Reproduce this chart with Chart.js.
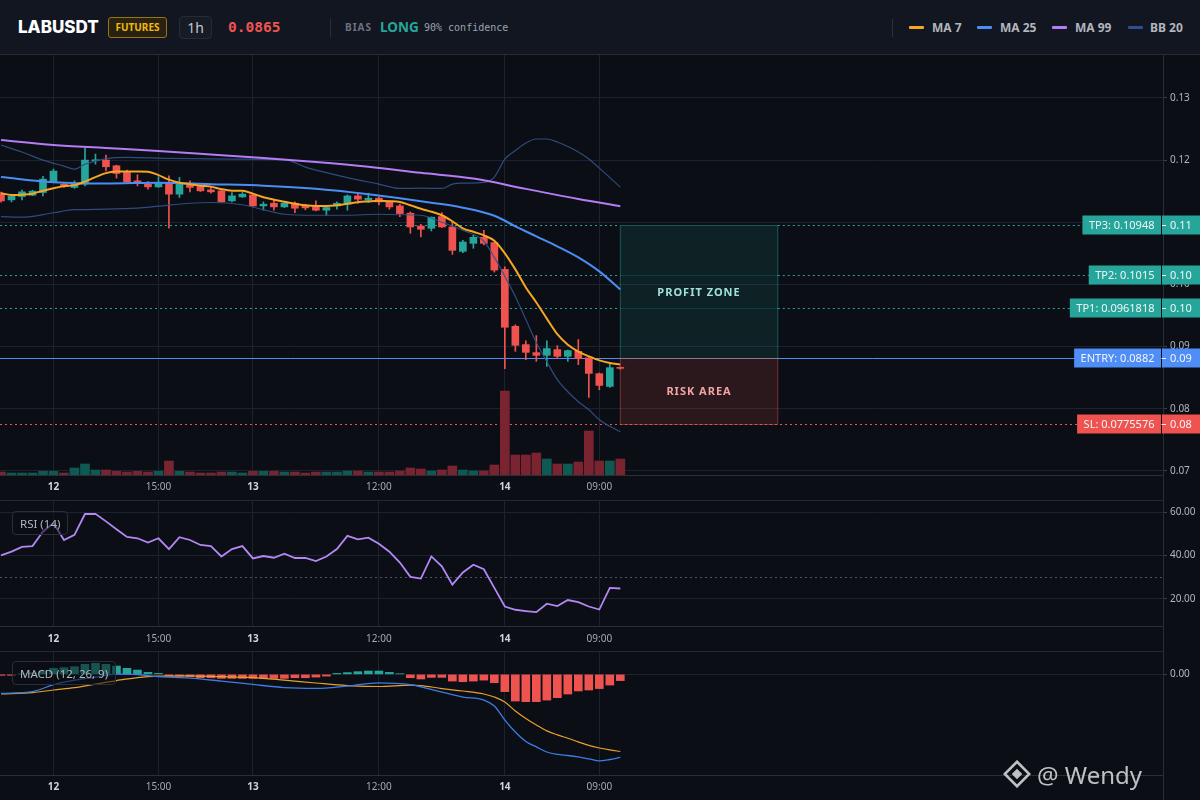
<!DOCTYPE html>
<html><head><meta charset="utf-8"><title>LABUSDT</title>
<script src="https://cdn.jsdelivr.net/npm/chart.js@4.4.1/dist/chart.umd.min.js"></script>
<style>
*{box-sizing:border-box}
html,body{margin:0;padding:0;width:1200px;height:800px;background:#0b0e14;overflow:hidden;font-family:"Noto Sans","Open Sans",sans-serif}
#hdr{position:absolute;left:0;top:0;width:1200px;height:55px;background:#111620;border-bottom:1px solid #262b36}
.a{position:absolute;top:0;height:54px;display:flex;align-items:center;white-space:nowrap}
#sym{left:18px;font:800 17px Inter,"Noto Sans",sans-serif;color:#fff}
#fut span{display:flex;align-items:center;justify-content:center;width:59px;height:21px;border:1px solid #9a7316;background:#2a2210;border-radius:3px;color:#f0b90b;font:bold 10px "Noto Sans",sans-serif}
#fut{left:108px}
#tf span{display:flex;align-items:center;justify-content:center;width:33px;height:23px;border:1px solid #262b37;background:#161b25;border-radius:4px;color:#c5c8d0;font:14px "Noto Sans",sans-serif}
#tf{left:179px}
#px{left:228px;font:bold 14.5px "DejaVu Sans Mono",monospace;color:#ef5350}
.sep{position:absolute;top:19px;width:1px;height:18px;background:#2a2f3b}
#bias{left:345px;font:bold 10px "Noto Sans",sans-serif;color:#6b7280;letter-spacing:1px}
#long{left:380px;font:bold 13.5px "Noto Sans",sans-serif;color:#26a69a}
#conf{left:424px;font:10px "DejaVu Sans Mono",monospace;color:#9ca3af}
.sw{position:absolute;top:26px;width:15px;height:3px;border-radius:1px}
.lg{font:bold 12px "Noto Sans",sans-serif;color:#b2b5be}
canvas{position:absolute;left:0}
.pl{position:absolute;left:12px;height:24px;padding:0 7px;border:1px solid #2a2e39;border-radius:4px;background:rgba(11,14,20,0.55);color:#b2b5be;font:11.5px "Noto Sans",sans-serif;display:flex;align-items:center;z-index:5;white-space:nowrap}
#wm{position:absolute;left:1003px;top:759px;height:30px;display:flex;align-items:center;gap:6px;color:rgba(214,217,222,0.88);font:24px "Noto Sans",sans-serif;z-index:5}
</style></head>
<body>
<div id="hdr">
  <div class="a" id="sym">LABUSDT</div>
  <div class="a" id="fut"><span>FUTURES</span></div>
  <div class="a" id="tf"><span>1h</span></div>
  <div class="a" id="px">0.0865</div>
  <div class="sep" style="left:330px"></div>
  <div class="a" id="bias">BIAS</div>
  <div class="a" id="long">LONG</div>
  <div class="a" id="conf">90% confidence</div>
  <div class="sep" style="left:892px"></div>
  <div class="sw" style="left:909px;background:#f5a623"></div><div class="a lg" style="left:932px">MA 7</div>
  <div class="sw" style="left:977px;background:#4a8ef5"></div><div class="a lg" style="left:1000px">MA 25</div>
  <div class="sw" style="left:1052px;background:#b57cf6"></div><div class="a lg" style="left:1075px">MA 99</div>
  <div class="sw" style="left:1128px;background:#2e4f8c"></div><div class="a lg" style="left:1150px">BB 20</div>
</div>
<canvas id="main" width="1200" height="445" style="top:55px"></canvas>
<canvas id="rsi" width="1200" height="151" style="top:500px"></canvas>
<canvas id="macd" width="1200" height="149" style="top:651px"></canvas>
<div class="pl" style="top:511px">RSI (14)</div>
<div class="pl" style="top:661px">MACD (12, 26, 9)</div>
<div id="wm"><svg width="28" height="28" viewBox="0 0 32 32"><polygon points="16,2 30,16 16,30 2,16" fill="none" stroke="rgba(214,217,222,0.88)" stroke-width="3"/><polygon points="16,10 22,16 16,22 10,16" fill="rgba(214,217,222,0.88)"/></svg><span>@ Wendy</span></div>
<script>
// ---------- DATA ----------
const opens  = [.11452,.1136,.11414,.11435,.11479,.11656,.11613,.1156,.11613,.11989,.12,.11908,.11802,.11666,.11613,.11569,.11629,.11452,.11597,.11576,.11521,.11505,.11344,.11408,.1144,.11263,.11306,.11247,.11306,.11263,.11247,.11194,.11263,.1129,.11424,.11355,.11387,.11327,.11263,.11145,.1094,.10903,.11092,.10924,.10532,.10661,.10758,.10673,.10242,.09327,.09032,.08903,.0886,.08952,.08844,.08924,.08818,.08565,.0836,.08666];
const highs  = [.11484,.1144,.11516,.11516,.11737,.11855,.1164,.11666,.12194,.12097,.12081,.11919,.11839,.11763,.11656,.11731,.11747,.11721,.11666,.11597,.11576,.11532,.11479,.11479,.11452,.11327,.11355,.11318,.11327,.1129,.11344,.11263,.11327,.1144,.11452,.11468,.11408,.11344,.1129,.11166,.10968,.11085,.11156,.11011,.1071,.1079,.10871,.10689,.10285,.0935,.09092,.09177,.09092,.09016,.08945,.09113,.08825,.08576,.08737,.08675];
const lows   = [.11323,.11327,.1136,.1143,.11424,.1165,.1156,.11544,.11585,.11935,.11827,.1171,.11645,.11585,.11532,.1156,.10903,.11398,.11489,.11495,.11468,.11323,.11327,.11398,.11253,.11194,.11194,.11237,.11156,.11199,.11182,.11113,.1121,.11194,.11306,.11318,.11279,.1121,.11089,.10823,.10763,.1086,.10915,.10484,.10511,.10581,.10634,.10198,.08645,.08924,.0879,.08763,.08682,.08806,.08763,.0871,.08182,.08306,.08344,.08634];
const closes = [.11344,.11424,.11489,.115,.11694,.11823,.11576,.11624,.12,.12005,.11892,.11785,.1165,.11629,.11569,.1164,.11452,.11624,.1156,.11505,.11489,.11327,.11424,.11452,.11263,.1129,.11247,.11306,.11226,.11231,.11194,.11237,.11306,.11424,.11371,.11387,.11327,.11247,.1114,.10924,.10887,.11081,.10924,.10548,.10682,.10758,.10661,.10231,.09311,.09021,.08908,.0886,.08968,.08844,.08935,.08806,.08569,.08376,.08661,.0865];
const volumeK = [30,20,20,20,37,37,20,70,110,50,50,37,30,37,30,37,140,37,30,20,20,30,30,20,37,37,37,30,30,20,30,30,30,40,40,30,30,30,40,70,60,40,50,90,50,40,40,100,840,200,200,220,160,110,110,130,440,140,140,160];
const ma7 = [.11468,.1144,.11444,.1146,.11508,.11548,.11581,.11597,.11653,.11726,.1179,.11815,.11818,.11815,.11811,.11758,.11685,.11637,.11613,.11589,.11573,.11532,.11508,.11505,.1146,.11403,.11363,.11331,.11298,.11274,.11263,.11263,.11274,.11298,.11323,.11335,.11344,.11339,.11327,.11274,.11218,.11169,.11113,.11016,.10903,.10847,.1079,.10702,.105,.10242,.09952,.0971,.0945,.092,.0903,.0892,.08844,.08779,.08737,.0871];
const ma25Idx = [0,5,10,15,20,25,30,35,38,41,44,47,49,51,53,55,57,59];
const ma25 = [.11726,.11645,.11624,.11637,.11613,.11589,.1154,.11452,.11387,.11315,.11234,.11105,.10935,.10774,.10613,.10435,.1021,.09919];
const ma99Idx = [0,5,10,15,20,25,30,35,40,45,50,55,59];
const ma99 = [.12323,.12242,.12194,.12145,.12089,.12032,.11968,.11892,.11795,.11702,.11537,.11374,.11258];
const bbUpIdx = [0,2,4,6,7,8,10,12,16,22,27,29,31,33,36,38,40,42,43,44,46,47,48,49,50,51,52,53,54,55,56,57,58,59];
const bbUp = [.12242,.12129,.12,.11903,.11855,.11935,.12024,.12044,.12027,.12016,.12008,.11887,.11798,.11718,.11613,.11544,.11548,.11544,.11613,.11629,.1164,.11726,.12016,.12153,.12274,.12339,.12339,.1229,.12218,.12129,.12016,.11871,.11718,.11565];
const bbLoIdx = [0,2,5,7,10,13,15,18,20,23,25,27,30,33,36,38,40,42,44,46,47,48,49,50,51,52,53,54,55,56,57,58,59];
const bbLo = [.11092,.11081,.11153,.11202,.1121,.11226,.11258,.11306,.11318,.11282,.11202,.11129,.11113,.11113,.11129,.11121,.11113,.11,.10871,.10694,.10435,.10129,.09806,.09435,.09065,.08758,.08468,.08274,.08113,.07984,.07823,.07718,.07629];
const rsi = [40,41.7,43.9,44.3,51,54.9,47.1,49.5,59.1,59.2,55.7,52.1,48.5,47.9,45.9,47.9,42.9,48.4,47.1,44.8,44.3,39.5,42.9,44.3,38.6,39.7,38.9,40.8,38.8,38.8,37.4,39.5,42.9,49,47.4,48.2,45.4,41.7,36.7,30.1,29.3,39.5,34.9,26.5,32.1,35.7,33.6,25,16.4,14.9,14.3,13.8,17.7,16.6,19.4,18.4,16.4,15,25,24.7];
const macdIdx = [0,3,5,7,9,11,13,15,18,21,24,27,30,33,36,39,40,42,44,46,47,48,49,50,51,52,53,54,55,56,57,58,59];
const macdLine = [-0.00119,-0.00108,-0.00064,-0.00036,-0.00017,0.00002,-0.00001,-0.00014,-0.00023,-0.00042,-0.00063,-0.00083,-0.00088,-0.00073,-0.00053,-0.00064,-0.00078,-0.00111,-0.00142,-0.00161,-0.00198,-0.00286,-0.00361,-0.0042,-0.00454,-0.00486,-0.00501,-0.00508,-0.00517,-0.00529,-0.00542,-0.00533,-0.00519];
const signalLine = [-0.00123,-0.00114,-0.00098,-0.00083,-0.00061,-0.00039,-0.0002,-0.00011,-0.00009,-0.00014,-0.0002,-0.00036,-0.00054,-0.0007,-0.00076,-0.00067,-0.0007,-0.00089,-0.00104,-0.00123,-0.00142,-0.00173,-0.00229,-0.00276,-0.00317,-0.00354,-0.00379,-0.004,-0.00423,-0.00445,-0.00461,-0.00473,-0.00483];
const macdHist = [-0.00006,-0.00006,0.00003,0.00009,0.00019,0.00038,0.00042,0.00048,0.00063,0.00069,0.00063,0.00052,0.00038,0.00027,0.000125,0.00006,-0.00011,-0.00011,-0.00014,-0.00021,-0.00021,-0.00025,-0.00025,-0.00025,-0.00025,-0.00025,-0.00025,-0.00025,-0.00021,-0.00021,-0.00017,-0.00011,0.00006,0.00011,0.00017,0.00021,0.00021,0.000125,0.00004,-0.00021,-0.00029,-0.00019,-0.00019,-0.00042,-0.00046,-0.00042,-0.00036,-0.00052,-0.00108,-0.00167,-0.00171,-0.00171,-0.00161,-0.00146,-0.00123,-0.00104,-0.00098,-0.00089,-0.00067,-0.00039];
const xTickIdx = [5,15,24,36,48,57];
const xTickLabels = ['12','15:00','13','12:00','14','09:00'];
const dayLabels = ['12','13','14'];
const priceTicks = [0.07,0.08,0.09,0.10,0.11,0.12,0.13];
const rsiTicks = [20,40,60];
const rsiLevel = 30;
const macdTicks = [0];
const levelNames = ['TP3','TP2','TP1','ENTRY','SL'];
const levelValues = [0.10948,0.1015,0.0961818,0.0882,0.0775576];
const zoneBars = 15;

// ---------- STYLE / LAYOUT ----------
const FONT = '"Noto Sans","Open Sans",sans-serif';
Chart.defaults.font.family = FONT;
const GRID = '#1c2230', AXIS = '#2a2e39';
const UP = '#26a69a', DOWN = '#ef5350';
const X_MIN = -0.0953, X_MAX = 110.70;
const levelColors = {TP3:UP, TP2:UP, TP1:UP, ENTRY:'#4f8ef7', SL:DOWN};
const N = closes.length;
const isUp = closes.map((c,i)=>c>=opens[i]);
const pts = (idx, vals) => idx.map((x,k)=>({x, y:vals[k]}));
const seq = vals => vals.map((y,x)=>({x,y}));

function xAxis(h, pad){
  return {type:'linear', min:X_MIN, max:X_MAX, position:'bottom', offset:false,
    afterFit(s){ s.height = h; s.paddingLeft = 0; s.paddingRight = 0; },
    afterBuildTicks(s){ s.ticks = xTickIdx.map(v=>({value:v})); },
    grid:{color:GRID, drawTicks:false, offset:false},
    border:{color:AXIS},
    ticks:{autoSkip:false, maxRotation:0, padding:pad,
      callback:(v,i)=>xTickLabels[i],
      color:c=>dayLabels.includes(xTickLabels[c.index]) ? '#d1d4dc' : '#a6a9b2',
      font:c=>({family:FONT, size:10, weight:dayLabels.includes(xTickLabels[c.index]) ? 'bold' : 'normal'})}
  };
}
function yAxis(min, max, ticks, dec){
  return {type:'linear', position:'right', min, max,
    afterFit(s){ s.width = 37; s.paddingTop = 0; s.paddingBottom = 0; },
    afterBuildTicks(s){ s.ticks = ticks.map(v=>({value:v})); },
    grid:{color:GRID, tickColor:'#3a3f4b', tickLength:4},
    border:{color:AXIS},
    ticks:{color:'#b2b5be', padding:3, font:{family:FONT, size:10}, callback:v=>v.toFixed(dec)}
  };
}
const frame = {
  id:'frame',
  afterDraw(chart){
    const {ctx, chartArea:a} = chart;
    ctx.save();
    ctx.strokeStyle = AXIS; ctx.lineWidth = 1;
    ctx.beginPath(); ctx.moveTo(a.right+0.5, 0); ctx.lineTo(a.right+0.5, chart.height); ctx.stroke();
    if (chart.options.plugins.frame && chart.options.plugins.frame.top){
      ctx.strokeStyle = '#232836';
      ctx.beginPath(); ctx.moveTo(0, 0.5); ctx.lineTo(a.right, 0.5); ctx.stroke();
    }
    ctx.restore();
  }
};
const baseOpts = {responsive:false, animation:false, events:[], plugins:{legend:{display:false}, tooltip:{enabled:false}}};

// ---------- MAIN ----------
const levelsPlugin = {
  id:'levels',
  beforeDatasetsDraw(chart){
    const {ctx, chartArea:a, scales:{x,y}} = chart;
    const zl = x.getPixelForValue(N-1), zr = x.getPixelForValue(N-1+zoneBars);
    ctx.save();
    ctx.beginPath(); ctx.rect(a.left,a.top,a.right-a.left,a.bottom-a.top); ctx.clip();
    levelNames.forEach((n,k)=>{
      const py = Math.round(y.getPixelForValue(levelValues[k]))+0.5;
      ctx.strokeStyle = levelColors[n]; ctx.lineWidth = 1;
      ctx.setLineDash(n==='ENTRY' ? [] : [2,3]);
      ctx.beginPath();
      if (n.startsWith('TP')){ ctx.moveTo(a.left,py); ctx.lineTo(zl,py); ctx.moveTo(zr,py); ctx.lineTo(a.right,py); }
      else { ctx.moveTo(a.left,py); ctx.lineTo(a.right,py); }
      ctx.stroke();
    });
    ctx.restore();
  },
  afterDatasetsDraw(chart){
    const {ctx, scales:{x,y}} = chart;
    const zl = x.getPixelForValue(N-1), zr = x.getPixelForValue(N-1+zoneBars);
    const yT = Math.round(y.getPixelForValue(levelValues[0]))+0.5;
    const yE = Math.round(y.getPixelForValue(levelValues[3]))+0.5;
    const yS = Math.round(y.getPixelForValue(levelValues[4]))+0.5;
    ctx.save();
    ctx.fillStyle = 'rgba(38,166,154,0.13)'; ctx.fillRect(zl, yT, zr-zl, yE-yT);
    ctx.strokeStyle = 'rgba(38,166,154,0.45)'; ctx.lineWidth = 1; ctx.strokeRect(zl, yT, zr-zl, yE-yT);
    ctx.fillStyle = 'rgba(239,83,80,0.14)'; ctx.fillRect(zl, yE, zr-zl, yS-yE);
    ctx.strokeStyle = 'rgba(239,83,80,0.45)'; ctx.strokeRect(zl, yE, zr-zl, yS-yE);
    ctx.strokeStyle = 'rgba(38,166,154,0.22)';
    [1,2].forEach(k=>{ const py = Math.round(y.getPixelForValue(levelValues[k]))+0.5; ctx.beginPath(); ctx.moveTo(zl,py); ctx.lineTo(zr,py); ctx.stroke(); });
    ctx.font = 'bold 11px '+FONT; ctx.letterSpacing = '1px';
    ctx.textAlign = 'center'; ctx.textBaseline = 'middle';
    ctx.fillStyle = '#9fe2d9'; ctx.fillText('PROFIT ZONE', (zl+zr)/2, (yT+yE)/2+1);
    ctx.fillStyle = '#f3a5a5'; ctx.fillText('RISK AREA', (zl+zr)/2, (yE+yS)/2);
    ctx.restore();
  },
  afterDraw(chart){
    const {ctx, chartArea:a, scales:{y}} = chart;
    ctx.save();
    ctx.font = '11px '+FONT; ctx.textBaseline = 'middle';
    levelNames.forEach((n,k)=>{
      const v = levelValues[k];
      const py = Math.round(y.getPixelForValue(v));
      const txt = n+': '+v;
      const w = ctx.measureText(txt).width + 13;
      const h = 19, top = py - 9.5;
      ctx.fillStyle = levelColors[n];
      ctx.fillRect(a.right-2-w, top, w, h);
      ctx.fillRect(a.right-1, top, chart.width-a.right+1, h);
      ctx.fillStyle = '#f2f5f7'; ctx.textAlign = 'center';
      ctx.fillText(txt, a.right-2-w/2, py+0.5);
      ctx.textAlign = 'left';
      ctx.fillText(v.toFixed(2), a.right+7, py+0.5);
      ctx.fillRect(a.right-1, py, 4, 1);
    });
    ctx.restore();
  }
};

new Chart(document.getElementById('main'), {
  type:'bar',
  data:{datasets:[
    {type:'line', data:seq(ma7), borderColor:'#f5a623', borderWidth:2, pointRadius:0, cubicInterpolationMode:'monotone', order:1},
    {type:'line', data:pts(ma25Idx,ma25), borderColor:'#4a8ef5', borderWidth:2, pointRadius:0, cubicInterpolationMode:'monotone', order:1},
    {type:'line', data:pts(ma99Idx,ma99), borderColor:'#b57cf6', borderWidth:2, pointRadius:0, cubicInterpolationMode:'monotone', order:1},
    {type:'line', data:pts(bbUpIdx,bbUp), borderColor:'rgba(50,82,140,0.9)', borderWidth:1.2, pointRadius:0, cubicInterpolationMode:'monotone', order:2},
    {type:'line', data:pts(bbLoIdx,bbLo), borderColor:'rgba(50,82,140,0.9)', borderWidth:1.2, pointRadius:0, cubicInterpolationMode:'monotone', order:2},
    {type:'bar', data:opens.map((o,i)=>({x:i, y:[o, closes[i]]})), backgroundColor:isUp.map(u=>u?UP:DOWN), barThickness:7, grouped:false, minBarLength:1, order:3},
    {type:'bar', data:lows.map((l,i)=>({x:i, y:[l, highs[i]]})), backgroundColor:isUp.map(u=>u?UP:DOWN), barThickness:1, grouped:false, order:4},
    {type:'bar', data:seq(volumeK), yAxisID:'yVol', backgroundColor:isUp.map(u=>u?'#0e5a52':'#7b2431'), barThickness:9, grouped:false, order:5}
  ]},
  options:{...baseOpts, layout:{padding:0},
    scales:{x:xAxis(25,6), y:yAxis(0.06935, 0.1369, priceTicks, 2), yVol:{type:'linear', display:false, min:0, max:4200}}},
  plugins:[frame, levelsPlugin]
});

// ---------- RSI ----------
const rsiPlugin = {
  id:'rsiLevel',
  beforeDatasetsDraw(chart){
    const {ctx, chartArea:a, scales:{y}} = chart;
    const py = Math.round(y.getPixelForValue(rsiLevel))+0.5;
    ctx.save(); ctx.strokeStyle = '#4b515d'; ctx.lineWidth = 1; ctx.setLineDash([2,3]);
    ctx.beginPath(); ctx.moveTo(a.left,py); ctx.lineTo(a.right,py); ctx.stroke(); ctx.restore();
  }
};
new Chart(document.getElementById('rsi'), {
  type:'line',
  data:{datasets:[{data:seq(rsi), borderColor:'#b388f5', borderWidth:1.8, pointRadius:0, tension:0}]},
  options:{...baseOpts, plugins:{...baseOpts.plugins, frame:{top:true}}, layout:{padding:{top:1}},
    scales:{x:xAxis(25,7), y:yAxis(7.4, 65.1, rsiTicks, 2)}},
  plugins:[frame, rsiPlugin]
});

// ---------- MACD ----------
new Chart(document.getElementById('macd'), {
  type:'bar',
  data:{datasets:[
    {type:'line', data:pts(macdIdx,macdLine), borderColor:'#3f7be6', borderWidth:1.3, pointRadius:0, cubicInterpolationMode:'monotone', order:1},
    {type:'line', data:pts(macdIdx,signalLine), borderColor:'#e8a02c', borderWidth:1.2, pointRadius:0, cubicInterpolationMode:'monotone', order:1},
    {type:'bar', data:seq(macdHist), backgroundColor:macdHist.map(v=>v>=0?UP:DOWN), barThickness:8, grouped:false, order:2}
  ]},
  options:{...baseOpts, plugins:{...baseOpts.plugins, frame:{top:true}}, layout:{padding:{top:1}},
    scales:{x:xAxis(25,6), y:yAxis(-0.0063, 0.0014, macdTicks, 2)}},
  plugins:[frame]
});
</script>
</body></html>
